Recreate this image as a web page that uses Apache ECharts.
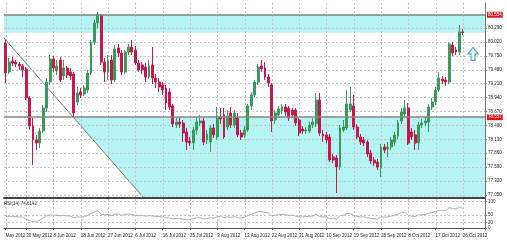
<!DOCTYPE html>
<html><head><meta charset="utf-8">
<script src="https://cdn.jsdelivr.net/npm/echarts@6/dist/echarts.min.js"></script>
<style>html,body{margin:0;padding:0;background:#fff}#c{width:507px;height:251px}</style>
</head><body><div id="c"></div>
<script>
// trading days (Sun-Fri bars) per month, 2012
const mayDays=[23,24,25,27,28,29,30,31];
const junDays=[1,3,4,5,6,7,8,10,11,12,13,14,15,17,18,19,20,21,22,24,25,26,27,28,29];
const julDays=[1,2,3,4,5,6,8,9,10,11,12,13,15,16,17,18,19,20,22,23,24,25,26,27,29,30,31];
const augDays=[1,2,3,5,6,7,8,9,10,12,13,14,15,16,17,19,20,21,22,23,24,26,27,28,29,30,31];
const sepDays=[2,3,4,5,6,7,9,10,11,12,13,14,16,17,18,19,20,21,23,24,25,26,27,28,30];
const octDays=[1,2,3,4,5,7,8,9,10,11,12,14,15,16,17,18,19,21,22,23,24,25,26];
const emptySlotsRight=6;

const opens=[80.001,79.438,79.652,79.632,79.593,79.554,79.496,78.933,78.389,78.118,
78.059,78.292,78.739,79.244,79.690,79.457,79.671,79.360,79.516,79.438,
79.399,78.856,79.050,79.011,79.088,79.419,80.020,80.389,80.545,79.632,
79.438,79.671,79.283,79.904,79.807,79.438,79.826,79.923,79.865,79.613,
79.574,79.535,79.341,79.574,79.321,79.244,79.186,79.127,79.050,78.778,
78.409,78.467,78.448,78.273,78.098,78.059,78.312,78.448,78.487,78.118,
78.079,78.351,78.176,78.564,78.603,78.370,78.642,78.409,78.545,78.254,
78.215,78.312,78.778,78.992,79.244,79.554,79.516,79.341,79.186,78.506,
78.603,78.681,78.758,78.739,78.700,78.700,78.506,78.331,78.292,78.292,
78.409,78.428,78.894,78.234,78.215,78.176,77.788,77.768,77.593,78.312,
78.351,78.700,78.778,78.370,78.176,78.118,78.079,77.865,77.729,77.690,
77.574,77.982,77.943,77.982,78.079,78.195,78.487,78.623,78.739,78.273,
78.215,78.059,78.409,78.448,78.467,78.758,78.856,79.088,79.302,79.283,
79.244,79.962,79.865,79.826,80.215];
const closes=[79.419,79.632,79.613,79.593,79.554,79.477,78.933,78.389,78.118,78.059,
78.292,78.739,79.244,79.690,79.516,79.554,79.283,79.516,79.380,79.360,
78.642,79.030,78.992,79.127,79.419,80.020,80.389,80.564,79.632,79.438,
79.652,79.283,79.885,79.807,79.438,79.826,79.923,79.826,79.613,79.477,
79.477,79.341,79.554,79.321,79.244,79.147,79.088,78.836,78.758,78.428,
78.467,78.428,78.254,78.079,78.059,78.312,78.467,78.487,78.079,78.234,
78.351,78.215,78.564,78.525,78.176,78.584,78.409,78.642,78.215,78.176,
78.312,78.778,78.992,79.244,79.535,79.496,79.341,79.224,78.487,78.642,
78.720,78.758,78.661,78.545,78.603,78.448,78.254,78.292,78.312,78.409,
78.467,78.894,78.254,78.195,78.118,77.729,77.729,77.593,78.351,78.370,
78.817,78.817,78.370,78.176,78.079,78.059,77.846,77.710,77.671,77.593,
77.982,77.924,77.982,78.118,78.215,78.448,78.661,78.739,78.059,78.176,
78.059,78.409,78.448,78.487,78.758,78.856,79.088,79.321,79.263,79.244,
79.982,79.807,79.826,80.215,80.206];
const lows=[79.224,79.399,79.554,79.535,79.477,79.341,78.894,78.312,77.632,77.924,
77.962,78.254,78.661,79.186,79.438,79.380,79.244,79.283,79.321,79.283,
78.564,78.797,78.933,78.972,79.030,79.380,79.962,80.292,79.574,79.244,
79.283,79.205,79.244,79.729,79.380,79.399,79.768,79.768,79.574,79.438,
79.399,79.244,79.302,79.205,79.127,79.050,78.992,78.700,78.700,78.370,
78.351,78.351,78.079,77.924,78.001,77.924,78.215,78.389,78.021,78.040,
77.885,78.156,78.118,78.428,78.137,78.312,78.351,78.351,78.176,78.118,
78.156,78.273,78.700,78.953,79.186,79.438,79.283,79.147,78.273,78.428,
78.545,78.623,78.584,78.487,78.545,78.389,78.195,78.234,78.234,78.254,
78.351,78.370,78.195,78.079,78.059,77.690,77.671,77.089,77.535,78.273,
78.312,78.661,78.312,78.137,78.021,78.001,77.788,77.652,77.613,77.535,
77.399,77.865,77.788,77.924,78.001,78.137,78.428,78.545,78.021,78.118,
77.924,77.924,78.351,78.389,78.273,78.700,78.797,79.050,79.205,79.166,
79.205,79.749,79.768,79.768,80.156];
const highs=[80.059,79.710,79.729,79.671,79.632,79.593,79.535,78.972,78.545,78.215,
78.351,78.797,79.321,79.768,79.749,79.671,79.729,79.671,79.554,79.516,
79.438,79.147,79.127,79.186,79.477,80.059,80.448,80.603,80.564,79.710,
79.768,79.768,79.962,79.982,79.865,79.865,79.982,80.059,79.943,79.671,
79.632,79.613,79.671,79.923,79.399,79.321,79.244,79.186,79.127,78.817,
78.545,78.545,78.506,78.351,78.176,78.370,78.545,78.603,78.545,78.312,
78.409,78.428,78.758,78.739,78.739,78.700,78.758,78.700,78.642,78.312,
78.389,78.817,79.050,79.283,79.593,79.671,79.632,79.399,79.224,78.700,
78.778,78.817,78.817,78.778,78.739,78.739,78.545,78.389,78.370,78.467,
78.545,79.030,79.030,78.312,78.273,78.234,77.846,77.826,78.409,78.506,
79.088,79.147,78.992,78.428,78.234,78.176,78.118,77.924,77.788,77.749,
78.040,78.040,78.079,78.176,78.273,78.506,78.739,78.894,78.836,78.351,
78.312,78.467,78.525,78.564,78.817,78.933,79.147,79.438,79.360,79.341,
80.020,80.020,79.923,80.351,80.273];
const rsi=[43,44,44,43,42,41,34,28,24,24,
30,38,45,50,48,49,46,48,46,45,
38,42,41,43,47,55,61,65,52,50,
51,47,53,52,48,52,53,51,48,47,
47,45,47,45,44,43,42,39,38,35,
36,36,33,31,31,35,38,39,34,36,
39,37,43,43,39,42,40,43,39,38,
40,47,52,57,62,62,59,57,46,48,
50,51,50,48,48,45,42,42,43,44,
45,52,43,42,41,35,35,33,47,48,
55,55,47,44,42,42,39,36,35,33,
42,41,42,45,48,53,58,60,47,45,
43,50,50,51,56,58,63,67,67,66,
77,73,72,78,74.6142];

const priceTicks=[77.050,77.320,77.590,77.860,78.130,78.400,78.670,78.940,79.210,79.480,79.750,80.020,80.290];
const rsiTicks=[0,20,50,100];
const resistanceLevel=80.554, bandLow=80.20, supportLevel=78.557, bidPrice=80.206;
const trendStart=[0,80.06], trendEnd=[40,77.03];
const arrowPoint=[137,79.79];
const rsiTitle='RSI(14) 74.6142';
const firstLabel='May 2012';

const monthList=[['May',mayDays],['Jun',junDays],['Jul',julDays],['Aug',augDays],['Sep',sepDays],['Oct',octDays]];
const categories=[];
monthList.forEach(([m,ds])=>ds.forEach(d=>categories.push(d+' '+m+' 2012')));
for(let k=1;k<=emptySlotsRight;k++) categories.push(' '.repeat(k));
const nBars=opens.length;
const isLabel=i=>i<nBars && (i===0 || (i-6)%8===0);
const labelIdx=[]; for(let i=0;i<nBars;i++) if(isLabel(i)) labelIdx.push(i);

const candleData=opens.map((o,i)=>[o,closes[i],lows[i],highs[i]]);
const FILL='#b6f3f3', GRID='#c6c6c6', FONT='Liberation Sans';

const chart=echarts.init(document.getElementById('c'),null,{renderer:'canvas'});
const vLines=(params,api)=>{
  const cs=params.coordSys; const top=cs.y,bottom=cs.y+cs.height;
  return labelIdx.map(i=>{const x=Math.round(api.coord([i,0])[0])+0.5;
    return {type:'line',shape:{x1:x,y1:top,x2:x,y2:bottom},style:{stroke:GRID,lineWidth:1,lineDash:[2,2]}};});
};
const option={
  animation:false,
  backgroundColor:'#ffffff',
  textStyle:{fontFamily:FONT},
  grid:[{left:4,right:22,top:3,height:195},{left:4,right:22,top:199,height:31}],
  xAxis:[
    {type:'category',gridIndex:0,data:categories,boundaryGap:true,
     axisLine:{show:true,lineStyle:{color:'#444',width:2}},axisTick:{show:false},axisLabel:{show:false},splitLine:{show:false}},
    {type:'category',gridIndex:1,data:categories,boundaryGap:true,
     axisLine:{show:true,lineStyle:{color:'#555',width:1}},
     axisTick:{show:true,alignWithLabel:true,interval:(i)=>isLabel(i),length:2,lineStyle:{color:'#555'}},
     axisLabel:{show:true,interval:(i)=>isLabel(i),align:'left',fontSize:4.5,color:'#222',margin:3,fontFamily:FONT,
       formatter:(v,i)=>i===0?firstLabel:v},
     splitLine:{show:false}}
  ],
  yAxis:[
    {type:'value',gridIndex:0,position:'right',min:76.991,max:80.778,
     axisLine:{show:true,lineStyle:{color:'#777'}},
     axisTick:{show:true,length:2,customValues:priceTicks,lineStyle:{color:'#777'}},
     axisLabel:{show:true,customValues:priceTicks,fontSize:4.5,color:'#222',margin:3,fontFamily:FONT,formatter:v=>v.toFixed(3)},
     splitLine:{show:true,lineStyle:{color:GRID,type:[2,2],width:1}}},
    {type:'value',gridIndex:1,position:'right',min:-7.5,max:109.4,
     axisLine:{show:true,lineStyle:{color:'#777'}},
     axisTick:{show:true,length:2,customValues:rsiTicks,lineStyle:{color:'#777'}},
     axisLabel:{show:true,customValues:rsiTicks,fontSize:4.5,color:'#222',margin:3,fontFamily:FONT},
     splitLine:{show:true,lineStyle:{color:GRID,type:[2,2],width:1}}}
  ],
  series:[
    {type:'custom',name:'zones',xAxisIndex:0,yAxisIndex:0,z:-1,silent:true,clip:true,data:[[0,supportLevel]],
     renderItem:(params,api)=>{
       const cs=params.coordSys; const left=cs.x,right=cs.x+cs.width,top=cs.y,bottom=cs.y+cs.height;
       const yTop=api.coord([0,resistanceLevel])[1], yBot=api.coord([0,bandLow])[1], ySup=api.coord([0,supportLevel])[1];
       const p0=api.coord(trendStart), p1=api.coord(trendEnd);
       const slope=(p1[1]-p0[1])/(p1[0]-p0[0]);
       const xAt=y=>p0[0]+(y-p0[1])/slope;
       const children=[
         {type:'rect',shape:{x:left,y:yTop,width:right-left,height:yBot-yTop},style:{fill:FILL}},
         {type:'polygon',shape:{points:[[xAt(ySup),ySup],[right,ySup],[right,bottom],[xAt(bottom),bottom]]},style:{fill:FILL}}
       ].concat(vLines(params,api));
       children.push({type:'line',shape:{x1:left,y1:p0[1]+(left-p0[0])*slope,x2:xAt(bottom),y2:bottom},style:{stroke:'#7a7a7a',lineWidth:1}});
       return {type:'group',children};
     }},
    {type:'custom',name:'subgrid',xAxisIndex:1,yAxisIndex:1,z:-1,silent:true,data:[[0,50]],
     renderItem:(params,api)=>({type:'group',children:vLines(params,api)})},
    {type:'candlestick',name:'price',xAxisIndex:0,yAxisIndex:0,data:candleData,barWidth:2.4,
     itemStyle:{color:'#3a9a5c',color0:'#c8174a',borderColor:'#3a9a5c',borderColor0:'#c8174a',borderWidth:1},
     markLine:{silent:true,symbol:['none','none'],animation:false,
       data:[
         {yAxis:resistanceLevel,lineStyle:{color:'#858585',width:1.5,type:'solid'},
          label:{show:true,position:'end',formatter:resistanceLevel.toFixed(3),backgroundColor:'#e0161e',color:'#fff',fontSize:4.5,padding:[1,1,0,1],distance:2,fontFamily:FONT}},
         {yAxis:supportLevel,lineStyle:{color:'#858585',width:1.5,type:'solid'},
          label:{show:true,position:'end',formatter:supportLevel.toFixed(3),backgroundColor:'#e0161e',color:'#fff',fontSize:4.5,padding:[1,1,0,1],distance:2,fontFamily:FONT}},
         {yAxis:bidPrice,lineStyle:{opacity:0,width:0},
          label:{show:true,position:'end',formatter:bidPrice.toFixed(3),backgroundColor:'#111',color:'#fff',fontSize:4.5,padding:[1,1,0,1],distance:2,fontFamily:FONT}}
       ]}},
    {type:'scatter',name:'arrow',xAxisIndex:0,yAxisIndex:0,data:[arrowPoint],silent:true,
     symbol:'path://M5,0 L10,6 L7,6 L7,12 L3,12 L3,6 L0,6 Z',symbolSize:[10,13],
     itemStyle:{color:'#e9ffff',borderColor:'#1f8f8f',borderWidth:1.2}},
    {type:'line',name:'RSI',xAxisIndex:1,yAxisIndex:1,data:rsi,showSymbol:false,symbol:'none',
     lineStyle:{color:'#a3b1bf',width:1},silent:true}
  ],
  graphic:[{type:'text',left:4,top:201,style:{text:rsiTitle,fontSize:4.5,fill:'#222',fontFamily:FONT}}]
};
chart.setOption(option);
</script></body></html>
